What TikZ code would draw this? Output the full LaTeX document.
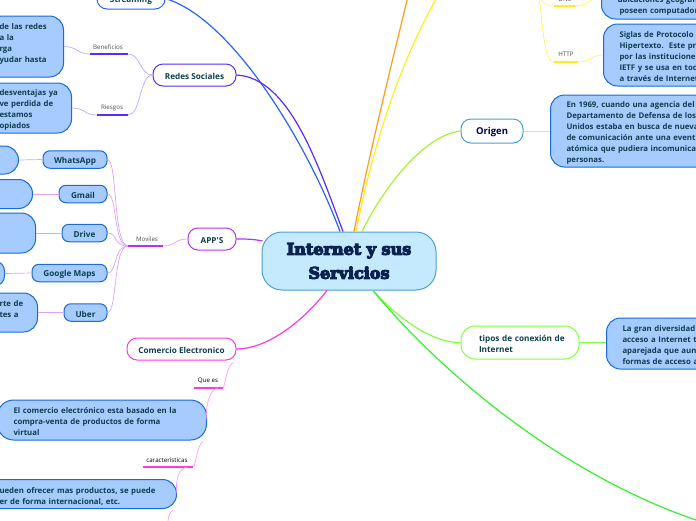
\documentclass[tikz,border=0pt]{standalone}
\usepackage{fontspec}
\setmainfont{Open Sans}
\newfontfamily\heavyfont{Open Sans Bold}
\newfontfamily\titlefont[FakeBold=7]{DejaVu Serif Bold}
\definecolor{txtc}{HTML}{0F3F4C}
\definecolor{boxf}{HTML}{A6CBFF}
\definecolor{boxd}{HTML}{1A6AD8}
\definecolor{mainf}{HTML}{C5EAFE}
\definecolor{maind}{HTML}{4A9FD8}
\definecolor{titlec}{HTML}{0B2150}
\definecolor{cblue}{HTML}{2A62FF}
\definecolor{cviolet}{HTML}{5A2AFF}
\definecolor{cpurple}{HTML}{B233F0}
\definecolor{cpink}{HTML}{FF38E0}
\definecolor{corange}{HTML}{FF9A1E}
\definecolor{cyellow}{HTML}{FFEE1A}
\definecolor{clime}{HTML}{A8F030}
\definecolor{cgreen}{HTML}{33F030}
\definecolor{cgreenb}{HTML}{80FF40}
\tikzset{
  topic/.style={draw,fill=white,line width=1pt,rounded corners=10pt,inner sep=0pt,align=center,text=txtc,execute at begin node=\rule{0pt}{9.5pt},font=\fontsize{8.2}{11}\selectfont\heavyfont},
  app/.style={draw=boxd,fill=boxf,line width=1pt,rounded corners=7pt,inner sep=0pt,align=center,text=txtc,execute at begin node=\rule{0pt}{9.5pt},font=\fontsize{8.2}{11}\selectfont\heavyfont},
  info/.style={draw=boxd,fill=boxf,line width=1pt,rounded corners=14pt,inner xsep=16pt,inner ysep=0pt,align=left,text=txtc,execute at begin node=\rule{0pt}{10pt},font=\fontsize{7.8}{11}\selectfont\heavyfont},
  sub/.style={font=\fontsize{6.2}{8}\selectfont,text=black!70,inner sep=0pt},
  branch/.style={line width=1.2pt},
  twig/.style={line width=.7pt},
  under/.style={line width=1.6pt}
}
\begin{document}
\begin{tikzpicture}[x=1pt,y=-1pt]
\path[use as bounding box,clip] (0,0) rectangle (696,520);
\node (main) [draw=maind,fill=mainf,line width=1pt,rounded corners=20pt,minimum width=174pt,minimum height=58pt,inner sep=0pt,align=center,text=titlec,font=\fontsize{16}{24}\selectfont\titlefont] at (349,261) {Internet y sus\\Servicios};
% ramas de la izquierda
\node (stream) [topic,draw=cblue,minimum width=68pt,minimum height=21pt] at (131,-1.5) {Streaming};
\node (redes) [topic,draw=cviolet,minimum width=83pt,minimum height=22pt] at (194.5,75) {Redes Sociales};
\node (apps) [topic,draw=cpurple,minimum width=48pt,minimum height=22pt] at (212,239) {APP'S};
\node (comercio) [topic,draw=cpink,minimum width=109pt,minimum height=22pt] at (181.5,349) {Comercio Electronico};
% ramas de la derecha
\node (origen) [topic,draw=maind,text=blue!30!black,minimum width=62pt,minimum height=24pt,font=\fontsize{9.5}{11}\selectfont\heavyfont] at (492,131) {Origen};
\node (tipos) [topic,draw=cgreenb,text width=82pt,inner xsep=18pt,align=left,minimum height=33pt,rounded corners=14pt] at (520,342.5) {\mbox{tipos de conexión de}\\Internet};
\coordinate (orangeend) at (410,-12);
\coordinate (yellowend) at (440,-8);
\coordinate (greenend) at (696,520);
\path[branch,draw=cblue] ([xshift=-9]main.north) .. controls (310,150) and (235,20) .. (stream.east);
\path[branch,draw=cviolet] ([xshift=-6]main.north) .. controls (318,165) and (290,78) .. (redes.east);
\path[branch,draw=cpurple] ([xshift=1,yshift=20]main.west) .. controls +(-10,-2) and +(10,0) .. (apps.east);
\path[branch,draw=cpink] ([xshift=-22]main.south) .. controls (300,325) and (265,349) .. (comercio.east);
\path[branch,draw=corange] ([xshift=5]main.north) .. controls (370,150) and (395,50) .. (orangeend);
\path[branch,draw=cyellow] ([xshift=7]main.north) .. controls (370,160) and (395,70) .. (yellowend);
\path[branch,draw=clime] ([xshift=13]main.north) .. controls (385,185) and (425,135) .. (origen.west);
\path[branch,draw=cgreenb] ([xshift=24]main.south) .. controls (395,315) and (430,343) .. (tipos.west);
\path[branch,draw=cgreen] ([xshift=24]main.south) .. controls (430,360) and (550,470) .. (greenend);
% redes sociales
\node (benef) [info,anchor=east,text width=48pt,minimum height=61pt] at (64,46.5) {de las redes\\a la\\rga\\\mbox{yudar hasta}\\\mbox{}};
\node (riesg) [info,anchor=east,text width=56pt,minimum height=50pt] at (72,108) {\mbox{desventajas ya}\\\mbox{ve perdida de}\\estamos\\opiados};
\coordinate (benl) at (90,54);
\coordinate (benr) at (128,54);
\coordinate (riel) at (97,115);
\coordinate (rier) at (128,115);
\node (benlab) [sub] at (108,47) {Beneficios};
\node (rielab) [sub] at (112,108) {Riesgos};
\draw[under,cviolet] (benl) -- (benr);
\draw[under,cviolet] (riel) -- (rier);
\draw[twig,cviolet!40] (redes.west) .. controls +(-13,0) and +(13,0) .. (benr);
\draw[twig,cviolet!40] (redes.west) .. controls +(-13,0) and +(13,0) .. (rier);
\draw[twig,cviolet!40] (benl) .. controls +(-13,0) and +(13,0) .. (benef.east);
\draw[twig,cviolet!40] (riel) .. controls +(-13,0) and +(13,0) .. (riesg.east);
% apps
\node (whats) [app,minimum width=64pt,minimum height=17.5pt] at (75,159.5) {WhatsApp};
\node (gmail) [app,minimum width=48pt,minimum height=17.5pt] at (83,194) {Gmail};
\node (drive) [app,minimum width=45pt,minimum height=17.5pt] at (84.5,233) {Drive};
\node (maps) [app,minimum width=75pt,minimum height=17.5pt] at (69.5,273) {Google Maps};
\node (uber) [app,minimum width=43pt,minimum height=17.5pt] at (85.5,312.5) {Uber};
\node (whatsbox) [info,anchor=east,text width=10pt,minimum height=28pt] at (19,160) {};
\node (gmailbox) [info,anchor=east,text width=17pt,minimum height=29pt] at (33,194) {};
\node (drivebox) [info,anchor=east,text width=20pt,minimum height=40pt] at (36,233) {};
\node (mapsbox) [info,anchor=east,rounded corners=10pt,text width=10pt,minimum height=25pt] at (5,273.5) {};
\node (uberbox) [info,anchor=east,text width=22pt,minimum height=39pt] at (38,312.5) {\mbox{rte de}\\\mbox{tes a}\\\mbox{}};
\coordinate (movl) at (128,246);
\coordinate (movr) at (163,246);
\node (movlab) [sub] at (147,239) {Moviles};
\draw[under,cpurple] (movl) -- (movr);
\draw[twig,cpurple!45] (apps.west) .. controls +(-13,0) and +(13,0) .. (movr);
\foreach \n in {whats,gmail,drive,maps,uber}
  \draw[twig,cpurple!45] (movl) .. controls +(-15,0) and +(10,0) .. (\n.east);
\draw[twig,cpurple!45] (whats.west) -- (whatsbox.east);
\draw[twig,cpurple!45] (gmail.west) -- (gmailbox.east);
\draw[twig,cpurple!45] (drive.west) -- (drivebox.east);
\draw[twig,cpurple!45] (maps.west) -- (mapsbox.east);
\draw[twig,cpurple!45] (uber.west) -- (uberbox.east);
% comercio
\node (quees) [info,anchor=east,text width=177pt,inner xsep=16pt,minimum height=40pt,rounded corners=16pt] at (207,420) {El comercio electrónico esta basado en la\\compra-venta de productos de forma\\virtual};
\node (carac) [info,anchor=east,text width=161pt,minimum height=29pt] at (177,494) {ueden ofrecer mas productos, se puede\\er de forma internacional, etc.};
\coordinate (quel) at (194,387.7);
\coordinate (quer) at (223,387.7);
\coordinate (carl) at (143,467);
\coordinate (carr) at (193,467);
\coordinate (pinkend) at (168,522);
\node (quelab) [sub,text=black] at (208,381) {Que es};
\node (carlab) [sub,text=black] at (167,460) {características};
\draw[under,cpink] (quel) -- (quer);
\draw[under,cpink] (carl) -- (carr);
\draw[twig,cpink!50] ([xshift=-3,yshift=-2]comercio.south east) .. controls +(-7,2) and +(2,0) .. (quer);
\draw[twig,cpink!50] ([xshift=-5]quer) .. controls +(-8,2) and +(-2,-15) .. (quees.east);
\draw[twig,cpink!50] ([xshift=-4,yshift=-1]quees.south east) .. controls +(-6,3) and +(3,-1) .. (carr);
\draw[twig,cpink!50] ([xshift=-6]carr) .. controls +(-8,2) and +(-2,-15) .. (carac.east);
\draw[twig,cpink!50] ([xshift=-4,yshift=-1]carac.south east) .. controls +(-4,2) and +(0,-4) .. (pinkend);
% derecha, amarillo
\node (dnsbox) [info,anchor=west,text width=200pt,minimum height=35pt] at (601,1.5) {\rule{0pt}{14pt}ubicaciones geográficas\\\hspace*{2pt}poseen computadoras};
\node (httpbox) [info,anchor=west,text width=200pt,minimum height=62pt] at (603,55) {Siglas de Protocolo\\Hipertexto.\ \ Este pro\\por las institucione\\IETF y se usa en tod\\a través de Internet};
\node (origbox) [info,anchor=west,text width=200pt,minimum height=72pt] at (550,131) {En 1969, cuando una agencia del\\Departamento de Defensa de los\\Unidos estaba en busca de nueva\\de comunicación ante una event\\atómica que pudiera incomunica\\personas.};
\node (tipobox) [info,anchor=west,text width=200pt,minimum height=51pt] at (606,343.5) {La gran diversidad\\acceso a Internet t\\aparejada que aun\\formas de acceso a};
\coordinate (dnsl) at (554,6);
\coordinate (dnsr) at (576,6);
\coordinate (httl) at (554,62);
\coordinate (httr) at (578,62);
\coordinate (yellowtop) at (539,-4);
\node (dnslab) [sub] at (565,-1) {DNS};
\node (httplab) [sub] at (566,54.5) {HTTP};
\draw[under,cyellow] (dnsl) -- (dnsr);
\draw[under,cyellow] (httl) -- (httr);
\draw[twig,cyellow!70] (yellowtop) .. controls +(4,30) and +(-10,0) .. (httl);
\draw[twig,cyellow!70] (yellowtop) .. controls +(2,5) and +(-8,0) .. (dnsl);
\draw[twig,cyellow!70] (httr) .. controls +(12,0) and +(-12,0) .. (httpbox.west);
\draw[twig,cyellow!70] (dnsr) .. controls +(12,0) and +(-12,4) .. ([yshift=6]dnsbox.west);
\draw[twig,clime!60] (origen.east) -- (origbox.west);
\draw[twig,cgreenb] (tipos.east) -- (tipobox.west |- tipos.east);
\end{tikzpicture}
\end{document}
